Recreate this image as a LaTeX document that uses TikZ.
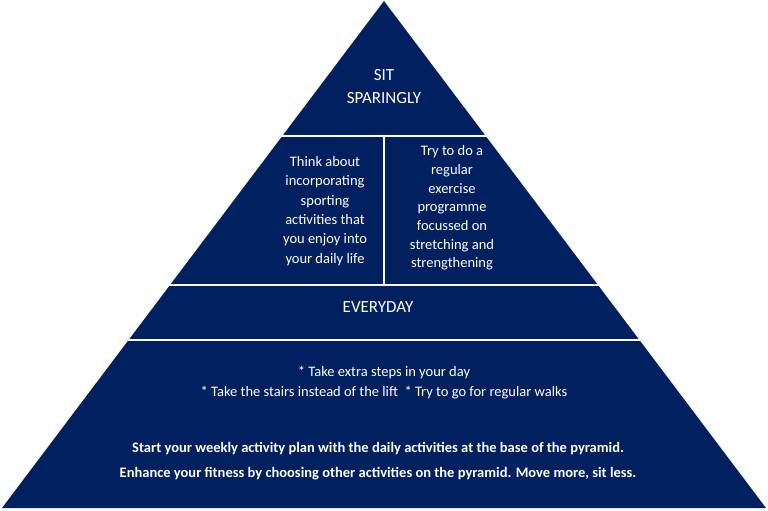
\documentclass[tikz,border=0pt]{standalone}
\usepackage{fontspec}
\setmainfont{Carlito}
\definecolor{navy}{HTML}{002060}
\begin{document}
\begin{tikzpicture}[x=1pt,y=-1pt,
  txt/.style={text=white,align=center,inner sep=0pt},
  sep/.style={draw=white,line width=2.5pt}]
\useasboundingbox (0,0) rectangle (768,511);
\fill[navy] (384,1) -- (766,508) -- (2,508) -- cycle;
\coordinate (l1) at (250,136); \coordinate (r1) at (520,136);
\coordinate (l2) at (100,285); \coordinate (r2) at (670,285);
\coordinate (l3) at (50,340); \coordinate (r3) at (720,340);
\coordinate (vt) at (384,136); \coordinate (vb) at (384,285);
\draw[sep] (l1) -- (r1);
\draw[sep] (l2) -- (r2);
\draw[sep] (l3) -- (r3);
\draw[sep] (vt) -- (vb);
\node[txt,font=\fontsize{17}{23}\selectfont] (top) at (384,87) {SIT\\SPARINGLY};
\node[txt,font=\fontsize{14.5}{19.4}\selectfont] (lc) at (325,211) {Think about\\incorporating\\sporting\\activities that\\you enjoy into\\your daily life};
\node[txt,font=\fontsize{14.5}{18.7}\selectfont] (rc) at (452,208) {Try to do a\\regular\\exercise\\programme\\focussed on\\stretching and\\strengthening};
\node[txt,font=\fontsize{17}{23}\selectfont] (ev) at (378,307) {EVERYDAY};
\node[txt,font=\fontsize{14.5}{20}\selectfont] (bl) at (384,383) {* Take extra steps in your day\\* Take the stairs instead of the lift\ \ * Try to go for regular walks};
\node[txt,font=\bfseries\fontsize{14.5}{25}\selectfont] (bt) at (378,461) {Start your weekly activity plan with the daily activities at the base of the pyramid.\\Enhance your fitness by choosing other activities on the pyramid. Move more, sit less.};
\end{tikzpicture}
\end{document}
